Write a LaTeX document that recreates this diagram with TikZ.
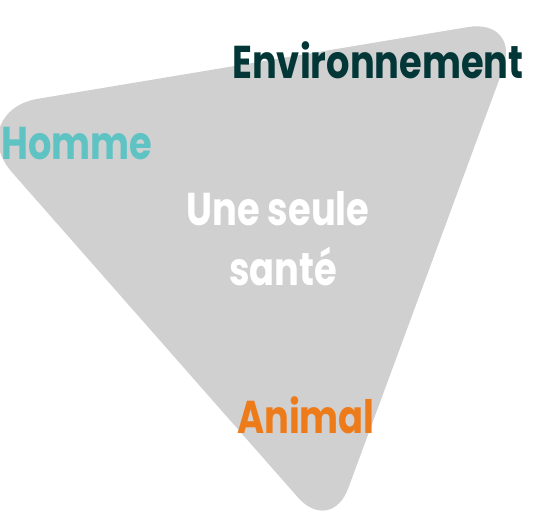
\documentclass[tikz,border=0pt]{standalone}
\usepackage{fontspec}
\setmainfont{Poppins}
\newcommand{\narrowtext}[1]{\scalebox{0.8}[1]{#1}}
\begin{document}
\begin{tikzpicture}[x=1pt,y=-1pt]
    % Define colors
    \definecolor{shapegray}{RGB}{208, 208, 208}
    \definecolor{darkteal}{RGB}{3, 55, 55}
    \definecolor{lightteal}{RGB}{95, 195, 196}
    \definecolor{orangeanimal}{RGB}{238, 123, 26}

    \tikzset{
        label/.style={anchor=base, font=\bfseries\fontsize{46}{50}\selectfont, inner sep=0pt}
    }

    \useasboundingbox (0, 0) rectangle (536, 523);

    % Draw rounded triangle
    \fill[shapegray] (11.8, 172.1) .. controls (-14.6, 142.0) and (-1.6, 105.4) .. (37.9, 98.8)
        -- (467.7, 27.1) .. controls (497.6, 22.1) and (513.4, 41.2) .. (502.9, 69.6)
        -- (348.3, 488.1) .. controls (338.8, 513.9) and (316.2, 518.1) .. (298.0, 497.5)
        -- cycle;

    % Add text
    \node[label, text=darkteal] (env) at (378, 78) {\narrowtext{Environnement}};
    \node[label, text=lightteal] (homme) at (77, 159) {\narrowtext{Homme}};
    \node[label, text=white] (une) at (278, 225) {\narrowtext{Une seule}};
    \node[label, text=white] (sante) at (283, 285) {\narrowtext{santé}};
    \node[label, text=orangeanimal] (animal) at (306, 433) {\narrowtext{Animal}};
\end{tikzpicture}
\end{document}
